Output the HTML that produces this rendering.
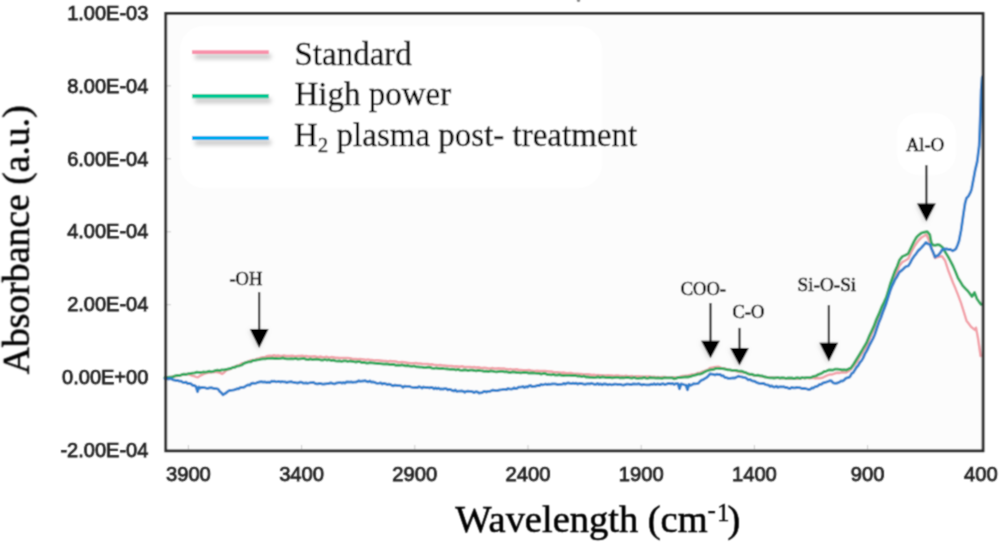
<!DOCTYPE html>
<html><head><meta charset="utf-8"><style>
html,body{margin:0;padding:0;background:#fff;width:1000px;height:544px;overflow:hidden}
svg{display:block}
.sans{font-family:"Liberation Sans",sans-serif;font-size:20px;fill:#1e1e1e;stroke:#1e1e1e;stroke-width:0.75px}
.serif{font-family:"Liberation Serif",serif;fill:#000;stroke:#000;stroke-width:0.3px}
</style></head><body>
<svg width="1000" height="544" viewBox="0 0 1000 544">
<defs>
<filter id="gb" x="0" y="0" width="1000" height="544" filterUnits="userSpaceOnUse"><feConvolveMatrix order="3" kernelMatrix="1 2 1 2 6 2 1 2 1" divisor="18" edgeMode="duplicate" preserveAlpha="false"/></filter>
<filter id="sh" x="-10%" y="-100%" width="120%" height="400%"><feGaussianBlur stdDeviation="2"/></filter>
<filter id="ash" x="-50%" y="-50%" width="200%" height="200%"><feGaussianBlur stdDeviation="2.2"/></filter>
</defs>
<g filter="url(#gb)">
<rect x="165.8" y="13.5" width="817.2" height="437.3" fill="#fcfcfc"/>
<rect x="180" y="26" width="422" height="162" rx="24" fill="#ffffff"/>
<rect x="897" y="113" width="59" height="62" rx="22" fill="#ffffff"/>
<g stroke="#c8c8c8" stroke-width="1"><line x1="167" y1="85.9" x2="171" y2="85.9"/><line x1="167" y1="158.8" x2="171" y2="158.8"/><line x1="167" y1="231.8" x2="171" y2="231.8"/><line x1="167" y1="304.7" x2="171" y2="304.7"/><line x1="167" y1="377.6" x2="171" y2="377.6"/><line x1="188.4" y1="449" x2="188.4" y2="445"/><line x1="301.6" y1="449" x2="301.6" y2="445"/><line x1="414.8" y1="449" x2="414.8" y2="445"/><line x1="528.0" y1="449" x2="528.0" y2="445"/><line x1="641.2" y1="449" x2="641.2" y2="445"/><line x1="754.4" y1="449" x2="754.4" y2="445"/><line x1="867.6" y1="449" x2="867.6" y2="445"/></g>
<g fill="none" stroke-linejoin="round" stroke-linecap="round">
<path d="M165.0,377.9 L167.0,377.8 L169.0,377.5 L171.0,376.9 L173.0,376.5 L175.2,376.3 L177.3,376.0 L179.5,375.2 L181.7,375.0 L183.8,374.8 L186.0,374.0 L188.0,374.3 L190.0,374.8 L192.0,375.7 L194.0,376.1 L196.0,376.9 L198.0,377.3 L200.0,375.8 L202.0,374.8 L204.0,373.8 L206.3,373.0 L208.7,372.7 L211.0,372.1 L213.3,372.2 L215.7,371.7 L218.0,372.3 L220.0,372.9 L222.0,373.9 L224.0,372.7 L226.0,370.7 L228.2,369.5 L230.5,369.0 L232.8,367.5 L235.0,366.4 L237.2,365.7 L239.5,364.9 L241.8,363.5 L244.0,362.9 L246.2,362.1 L248.5,361.4 L250.8,360.4 L253.0,359.9 L255.0,359.7 L257.0,358.8 L259.0,358.5 L261.0,357.7 L263.0,357.3 L265.3,357.0 L267.7,355.9 L270.0,355.8 L272.0,355.9 L274.0,355.2 L276.0,356.0 L278.0,355.5 L280.0,355.9 L282.0,355.9 L284.0,355.6 L286.0,355.9 L288.0,355.9 L290.0,356.1 L292.0,355.7 L294.0,356.1 L296.0,356.3 L298.0,356.1 L300.0,356.0 L302.1,355.8 L304.2,356.2 L306.2,356.1 L308.3,356.5 L310.4,356.6 L312.5,356.6 L314.5,356.3 L316.6,356.8 L318.7,356.9 L320.8,356.6 L322.8,357.2 L324.9,357.1 L327.0,356.8 L329.1,357.6 L331.2,357.1 L333.3,357.3 L335.4,357.8 L337.5,357.8 L339.5,357.9 L341.6,358.1 L343.7,358.1 L345.8,358.1 L347.9,358.1 L350.0,358.2 L352.0,358.8 L354.0,359.0 L356.0,359.0 L358.0,359.3 L360.0,359.1 L362.0,359.2 L364.0,359.4 L366.0,359.9 L368.0,359.4 L370.0,359.9 L372.0,359.9 L374.0,360.4 L376.0,360.2 L378.0,360.3 L380.0,360.5 L382.0,360.8 L384.0,361.1 L386.0,360.9 L388.0,361.5 L390.0,361.0 L392.0,361.3 L394.0,361.3 L396.0,361.5 L398.0,362.2 L400.0,362.3 L402.0,362.0 L404.0,362.2 L406.0,362.5 L408.0,362.9 L410.0,363.1 L412.0,363.2 L414.0,363.3 L416.0,363.1 L418.0,363.4 L420.0,363.4 L422.0,363.8 L424.0,364.0 L426.0,363.9 L428.0,364.0 L430.0,364.6 L432.0,364.2 L434.0,364.9 L436.0,365.1 L438.0,365.3 L440.0,365.0 L442.0,365.3 L444.0,365.5 L446.0,365.7 L448.0,366.1 L450.0,366.0 L452.0,365.9 L454.0,366.4 L456.0,366.3 L458.0,366.5 L460.0,366.8 L462.0,366.3 L464.1,367.0 L466.1,367.0 L468.1,367.0 L470.1,367.1 L472.2,367.2 L474.2,367.1 L476.2,367.5 L478.3,367.2 L480.3,367.7 L482.3,367.9 L484.3,367.8 L486.4,368.0 L488.4,368.4 L490.4,368.5 L492.5,368.0 L494.5,368.6 L496.5,368.6 L498.5,368.2 L500.6,368.6 L502.6,368.6 L504.6,368.6 L506.7,369.1 L508.7,369.5 L510.7,369.1 L512.7,369.6 L514.8,369.6 L516.8,369.3 L518.8,370.0 L520.9,369.9 L522.9,370.2 L524.9,370.2 L526.9,370.3 L529.0,370.1 L531.0,370.5 L533.0,370.8 L535.1,370.9 L537.1,370.7 L539.1,371.1 L541.1,371.1 L543.2,370.9 L545.2,371.0 L547.2,371.2 L549.3,371.4 L551.3,371.6 L553.3,372.0 L555.4,372.3 L557.4,372.3 L559.4,372.4 L561.4,372.7 L563.5,372.6 L565.5,372.9 L567.5,373.3 L569.6,373.1 L571.6,373.1 L573.6,373.8 L575.6,373.8 L577.7,373.7 L579.7,373.9 L581.7,374.1 L583.8,374.4 L585.8,374.2 L587.8,374.2 L589.9,374.5 L591.9,375.1 L593.9,374.8 L595.9,375.2 L598.0,375.1 L600.0,375.3 L602.0,375.3 L604.0,375.5 L606.0,375.4 L608.0,375.3 L610.0,375.5 L612.0,375.6 L614.0,375.9 L616.0,375.6 L618.0,375.6 L620.0,376.0 L622.0,376.0 L624.0,376.3 L626.0,375.8 L628.0,376.2 L630.0,376.2 L632.0,376.0 L634.0,376.8 L636.0,376.2 L638.0,376.2 L640.0,376.6 L642.0,376.4 L644.0,376.8 L646.0,376.6 L648.0,376.5 L650.0,376.5 L652.0,377.1 L654.0,376.8 L656.0,377.2 L658.0,377.0 L660.0,377.5 L662.0,377.0 L664.0,377.0 L666.0,377.1 L668.0,377.6 L670.0,377.5 L672.0,377.3 L674.0,377.2 L676.0,377.4 L678.0,377.4 L680.0,376.8 L682.0,376.1 L684.0,375.9 L686.0,375.7 L688.0,375.5 L690.0,375.1 L692.0,374.5 L694.0,374.4 L696.0,374.0 L698.0,372.9 L700.0,372.9 L702.0,371.7 L704.0,371.1 L706.0,370.4 L708.0,369.7 L710.0,368.1 L712.0,367.7 L714.0,367.3 L716.0,366.9 L718.0,366.7 L720.0,367.3 L722.0,368.3 L724.0,368.2 L726.2,368.9 L728.4,369.4 L730.6,370.1 L732.8,370.8 L735.0,370.7 L737.0,371.5 L739.0,371.8 L741.0,372.2 L743.0,372.2 L745.0,372.8 L747.3,373.2 L749.7,374.1 L752.0,374.8 L754.0,375.5 L756.0,375.6 L758.0,375.7 L760.0,375.9 L762.0,376.6 L764.0,376.8 L766.0,377.2 L768.0,377.2 L770.0,377.6 L772.0,377.4 L774.0,378.0 L776.0,377.5 L778.0,378.0 L780.0,378.3 L782.0,378.3 L784.0,378.0 L786.0,378.2 L788.0,378.8 L790.0,378.7 L792.0,378.8 L794.0,378.8 L796.0,378.4 L798.0,378.7 L800.0,378.5 L802.0,378.1 L804.0,378.1 L806.0,377.8 L808.0,378.0 L810.0,378.4 L812.5,377.8 L815.0,378.4 L817.4,378.1 L819.9,378.3 L822.4,377.8 L824.8,376.5 L827.3,375.4 L829.8,374.5 L831.8,374.5 L833.9,373.9 L835.9,373.0 L838.0,372.7 L840.0,372.9 L842.1,372.3 L844.3,372.5 L846.4,372.4 L850.0,370.2 L852.2,367.4 L854.4,364.9 L856.6,362.0 L859.1,357.8 L861.6,353.7 L864.0,349.7 L866.5,346.3 L869.0,339.9 L871.5,334.1 L873.8,329.1 L876.0,322.8 L878.8,316.8 L881.6,309.7 L884.0,305.0 L886.3,299.8 L888.5,293.8 L890.6,287.1 L892.8,281.6 L895.0,276.2 L897.2,271.3 L899.4,265.9 L902.4,262.1 L905.3,260.5 L908.2,258.7 L911.6,251.3 L914.0,247.1 L916.5,243.3 L919.0,240.0 L921.5,237.5 L924.0,236.0 L926.5,234.7 L930.0,242.7 L933.0,252.9 L935.0,258.0 L938.0,256.9 L940.0,256.6 L942.0,256.2 L945.0,260.4 L948.0,269.7 L950.5,276.3 L953.0,282.7 L955.5,288.6 L958.0,294.9 L961.0,302.9 L963.8,311.9 L966.5,320.7 L968.8,323.8 L971.0,326.7 L974.8,329.9 L976.0,327.7 L978.0,338.3 L980.6,356.0" stroke="#f2a0a8" stroke-width="2.5"/>
<path d="M165.0,377.6 L167.0,377.6 L169.0,377.2 L171.0,377.1 L173.0,376.8 L175.2,375.8 L177.3,375.3 L179.5,375.7 L181.7,374.7 L183.8,374.2 L186.0,374.5 L188.2,373.7 L190.3,373.7 L192.5,373.1 L194.7,372.9 L196.8,372.2 L199.0,372.3 L201.0,372.5 L203.0,372.0 L205.0,372.1 L207.0,371.9 L209.0,371.2 L211.0,371.8 L213.2,371.3 L215.3,370.7 L217.5,370.1 L219.7,370.6 L221.8,369.9 L224.0,369.8 L226.2,369.5 L228.4,368.8 L230.6,368.5 L232.8,367.4 L235.0,367.3 L237.2,366.1 L239.5,365.8 L241.8,365.0 L244.0,363.4 L246.2,362.6 L248.5,361.9 L250.8,361.9 L253.0,360.5 L255.0,360.4 L257.0,359.8 L259.0,359.6 L261.0,359.2 L263.0,358.9 L265.3,358.8 L267.7,358.4 L270.0,358.4 L272.1,358.2 L274.3,358.5 L276.4,358.5 L278.6,358.7 L280.7,358.4 L282.9,357.9 L285.0,358.7 L287.1,358.8 L289.3,358.8 L291.4,358.6 L293.6,358.8 L295.7,358.4 L297.9,359.1 L300.0,358.9 L302.1,358.7 L304.2,358.5 L306.2,359.4 L308.3,359.7 L310.4,358.9 L312.5,359.7 L314.5,359.4 L316.6,359.2 L318.7,359.4 L320.8,360.0 L322.8,360.2 L324.9,359.5 L327.0,360.1 L329.1,359.7 L331.2,360.5 L333.3,360.2 L335.4,360.9 L337.5,361.2 L339.5,360.8 L341.6,361.5 L343.7,360.9 L345.8,360.8 L347.9,361.5 L350.0,361.0 L352.0,361.3 L354.0,361.7 L356.0,362.0 L358.0,361.7 L360.0,361.7 L362.0,362.7 L364.0,362.3 L366.0,363.0 L368.0,363.1 L370.0,362.7 L372.0,362.9 L374.0,363.1 L376.0,363.4 L378.0,363.5 L380.0,363.6 L382.0,363.8 L384.0,364.2 L386.0,364.0 L388.0,364.1 L390.0,364.6 L392.0,364.3 L394.0,364.5 L396.0,365.4 L398.0,365.1 L400.0,365.3 L402.0,364.9 L404.0,365.5 L406.0,365.8 L408.0,365.5 L410.0,366.2 L412.0,366.4 L414.0,366.0 L416.0,366.8 L418.0,366.8 L420.0,367.2 L422.0,367.1 L424.0,367.6 L426.0,367.7 L428.0,367.2 L430.0,367.4 L432.0,368.1 L434.0,368.5 L436.0,368.0 L438.0,368.3 L440.0,368.6 L442.0,368.5 L444.0,368.7 L446.0,368.8 L448.0,369.0 L450.0,369.4 L452.0,369.2 L454.0,369.4 L456.0,370.0 L458.0,369.4 L460.0,370.1 L462.0,370.3 L464.1,370.0 L466.1,370.0 L468.1,370.6 L470.1,370.2 L472.2,370.2 L474.2,370.5 L476.2,370.9 L478.3,370.4 L480.3,370.7 L482.3,370.8 L484.3,371.4 L486.4,371.1 L488.4,371.6 L490.4,371.0 L492.5,371.2 L494.5,371.6 L496.5,371.9 L498.5,371.6 L500.6,371.4 L502.6,371.4 L504.6,371.9 L506.7,371.7 L508.7,372.4 L510.7,372.5 L512.7,371.9 L514.8,372.1 L516.8,372.7 L518.8,372.6 L520.9,372.9 L522.9,372.5 L524.9,372.4 L526.9,372.6 L529.0,373.2 L531.0,372.8 L533.0,373.0 L535.1,373.2 L537.1,373.3 L539.1,373.4 L541.2,374.1 L543.2,373.5 L545.2,373.4 L547.2,374.5 L549.3,374.6 L551.3,374.8 L553.3,374.4 L555.4,375.1 L557.4,375.2 L559.4,374.6 L561.5,375.3 L563.5,375.5 L565.5,375.4 L567.6,375.4 L569.6,375.3 L571.6,375.5 L573.7,375.5 L575.7,375.5 L577.7,376.2 L579.8,376.0 L581.8,376.7 L583.8,376.0 L585.8,377.0 L587.9,377.0 L589.9,377.3 L591.9,377.4 L594.0,377.6 L596.0,377.4 L598.0,376.8 L600.0,377.6 L602.0,377.0 L604.0,377.2 L606.0,377.6 L608.0,377.5 L610.0,377.4 L612.0,377.9 L614.0,377.6 L616.0,377.4 L618.0,377.3 L620.0,378.0 L622.0,377.6 L624.0,377.9 L626.0,377.5 L628.0,377.4 L630.0,377.8 L632.0,378.1 L634.0,377.5 L636.0,378.1 L638.0,378.3 L640.0,378.2 L642.0,378.2 L644.0,377.4 L646.0,378.1 L648.0,378.3 L650.0,377.5 L652.0,377.8 L654.0,377.8 L656.0,378.1 L658.0,378.0 L660.0,378.1 L662.0,378.4 L664.0,377.7 L666.0,377.8 L668.0,377.8 L670.0,377.9 L672.0,377.8 L674.0,378.8 L676.0,378.4 L678.0,377.5 L680.0,377.7 L682.0,377.3 L684.0,377.1 L686.0,376.9 L688.0,377.0 L690.0,376.7 L692.0,375.9 L694.0,375.3 L696.0,374.9 L698.0,374.1 L700.0,374.1 L702.0,373.4 L704.0,372.3 L706.0,371.2 L708.0,370.5 L710.0,369.9 L712.0,369.6 L714.0,369.3 L716.0,368.4 L718.0,368.3 L720.0,368.5 L722.0,368.6 L724.0,368.9 L726.0,369.3 L728.0,369.9 L730.0,369.9 L732.0,370.4 L734.0,370.4 L736.0,370.3 L738.0,370.8 L740.0,371.2 L742.0,371.2 L744.0,372.1 L746.0,372.7 L748.0,373.8 L750.0,374.4 L752.0,374.2 L754.0,375.1 L756.0,375.4 L758.0,375.2 L760.0,375.8 L762.0,375.8 L764.0,376.8 L766.0,377.0 L768.0,377.6 L770.0,377.9 L772.0,377.8 L774.0,378.0 L776.0,377.9 L778.0,377.5 L780.0,378.1 L782.0,377.6 L784.0,377.8 L786.0,378.5 L788.0,377.9 L790.0,378.0 L792.0,377.9 L794.0,378.7 L796.0,377.9 L798.0,377.7 L800.0,378.4 L802.2,377.5 L804.4,378.0 L806.6,377.6 L808.8,377.6 L811.0,377.5 L813.6,376.3 L816.2,375.8 L818.8,374.3 L821.5,373.4 L824.3,371.5 L826.5,371.1 L828.7,370.0 L830.9,370.0 L833.1,370.1 L835.3,369.1 L837.5,369.2 L839.7,369.3 L841.9,369.9 L844.2,369.7 L846.4,370.1 L848.6,368.9 L850.8,368.1 L853.7,364.0 L856.6,359.3 L859.1,355.2 L861.6,351.1 L864.0,346.9 L866.5,342.8 L869.0,336.7 L871.5,331.3 L873.8,326.4 L876.0,320.4 L878.8,314.2 L881.6,307.2 L884.0,302.4 L886.3,297.3 L888.5,290.2 L890.6,283.0 L892.8,277.0 L895.0,271.1 L897.2,266.2 L899.4,260.2 L902.4,256.5 L905.3,255.3 L908.2,253.6 L911.2,247.4 L914.1,241.4 L916.5,237.2 L919.0,234.8 L921.5,233.0 L924.4,232.1 L927.3,231.7 L929.8,234.7 L931.4,242.9 L933.0,245.0 L935.2,245.3 L937.5,244.6 L939.7,245.0 L943.0,247.9 L945.5,252.6 L948.0,256.5 L950.5,261.1 L953.0,266.0 L955.5,271.7 L958.0,278.0 L960.5,282.0 L962.9,285.9 L965.1,288.3 L967.3,290.4 L969.5,293.1 L972.0,296.6 L974.5,292.5 L977.0,299.0 L979.0,301.8 L981.0,304.4" stroke="#2fa85c" stroke-width="2.8"/>
<path d="M165.0,378.6 L166.6,378.3 L168.2,379.0 L169.8,378.7 L171.4,378.8 L173.0,379.8 L174.6,380.2 L176.2,380.6 L177.9,380.4 L179.5,381.2 L181.1,381.1 L182.8,382.3 L184.4,382.6 L186.0,382.1 L187.7,383.7 L189.3,383.3 L191.0,383.9 L192.7,385.4 L194.3,385.5 L196.0,386.5 L197.5,391.7 L199.0,387.0 L200.5,388.0 L202.0,387.4 L203.5,387.7 L205.0,387.7 L206.5,388.3 L208.0,388.4 L209.5,387.8 L211.0,387.6 L212.8,388.2 L214.5,388.7 L216.2,388.6 L218.0,389.0 L219.7,391.4 L221.3,392.8 L223.0,394.7 L224.7,393.8 L226.3,392.8 L228.0,391.2 L229.5,390.5 L231.0,390.3 L232.5,390.1 L234.0,389.8 L235.5,389.4 L237.0,388.7 L238.6,388.9 L240.2,387.6 L241.8,387.3 L243.4,387.4 L245.0,386.7 L246.6,385.5 L248.2,384.9 L249.8,385.2 L251.4,383.5 L253.0,383.2 L254.7,383.4 L256.3,383.1 L258.0,382.3 L259.7,381.8 L261.3,381.7 L263.0,382.2 L264.8,381.8 L266.5,382.5 L268.2,382.2 L270.0,382.5 L271.5,381.2 L273.0,381.4 L274.5,381.2 L276.0,381.8 L277.5,381.7 L279.0,381.4 L280.5,382.1 L282.0,381.5 L283.5,381.9 L285.0,381.8 L286.5,382.6 L288.0,382.1 L289.5,381.9 L291.0,381.7 L292.5,382.2 L294.0,382.5 L295.5,382.6 L297.0,383.0 L298.5,382.9 L300.0,382.1 L301.5,382.1 L303.0,383.0 L304.5,383.1 L306.0,382.8 L307.5,383.3 L309.0,383.0 L310.5,382.7 L312.0,382.6 L313.5,382.4 L315.0,383.4 L316.5,383.8 L318.0,383.9 L319.5,383.3 L321.0,383.7 L322.5,384.1 L324.0,384.0 L325.5,383.8 L327.0,383.6 L328.5,383.6 L330.0,383.0 L331.5,383.0 L333.0,383.6 L334.5,383.9 L336.0,383.2 L337.5,382.9 L339.0,382.7 L340.5,382.7 L342.0,383.1 L343.5,382.5 L345.0,383.1 L346.5,381.9 L348.1,382.0 L349.6,382.2 L351.2,381.9 L352.7,382.4 L354.2,382.2 L355.8,382.2 L357.3,381.7 L358.8,380.7 L360.4,381.4 L361.9,381.2 L363.5,381.0 L365.0,380.6 L366.6,381.4 L368.2,381.9 L369.8,381.0 L371.3,382.1 L372.9,381.9 L374.5,382.3 L376.1,383.1 L377.7,383.4 L379.2,383.2 L380.8,382.8 L382.4,384.1 L384.0,383.3 L385.6,383.8 L387.2,384.6 L388.8,384.2 L390.3,384.3 L391.9,385.5 L393.5,385.8 L395.1,385.1 L396.7,385.5 L398.2,385.6 L399.8,385.6 L401.4,386.0 L403.0,387.3 L404.6,386.1 L406.2,386.4 L407.8,386.4 L409.3,386.3 L410.9,387.0 L412.5,387.4 L414.1,387.6 L415.7,387.4 L417.2,387.7 L418.8,386.7 L420.4,387.1 L422.0,388.1 L423.5,387.0 L425.0,387.3 L426.5,387.7 L428.0,387.5 L429.5,388.0 L431.0,387.4 L432.5,387.7 L434.0,388.8 L435.5,387.8 L437.0,388.9 L438.5,388.0 L440.0,389.2 L441.5,389.0 L443.1,389.1 L444.6,388.6 L446.2,388.7 L447.7,389.9 L449.2,389.3 L450.8,389.6 L452.3,390.7 L453.8,391.0 L455.4,390.0 L456.9,391.5 L458.5,391.1 L460.0,391.1 L461.6,390.8 L463.2,391.3 L464.8,392.3 L466.3,391.4 L467.9,391.2 L469.5,391.4 L471.1,391.4 L472.7,391.8 L474.2,392.7 L475.8,391.6 L477.4,391.9 L479.0,393.0 L480.5,392.9 L482.1,392.7 L483.6,391.5 L485.1,391.5 L486.6,392.1 L488.2,391.3 L489.7,391.4 L491.2,390.7 L492.8,390.1 L494.3,390.4 L495.8,390.7 L497.4,390.6 L498.9,390.1 L500.4,389.8 L501.9,389.7 L503.5,389.4 L505.0,389.3 L506.5,389.6 L508.0,388.5 L509.5,388.9 L511.0,389.2 L512.5,388.9 L514.0,387.8 L515.5,388.7 L517.0,388.3 L518.5,387.2 L520.0,387.2 L521.5,386.9 L523.0,386.5 L524.5,387.6 L526.0,386.6 L527.5,387.1 L529.0,385.9 L530.5,385.5 L532.0,386.6 L533.5,386.3 L535.0,386.4 L536.5,385.8 L538.0,385.4 L539.5,385.5 L541.0,384.4 L542.5,384.8 L544.0,384.5 L545.5,384.0 L547.1,384.6 L548.6,384.1 L550.1,384.3 L551.6,384.0 L553.2,383.9 L554.7,383.9 L556.2,384.1 L557.8,384.6 L559.3,384.4 L560.8,384.3 L562.4,384.2 L563.9,383.3 L565.4,384.2 L566.9,383.1 L568.5,382.8 L570.0,383.3 L571.5,383.7 L573.1,383.2 L574.6,383.6 L576.1,383.1 L577.6,384.1 L579.2,383.5 L580.7,383.5 L582.2,383.6 L583.8,384.2 L585.3,384.4 L586.8,383.8 L588.4,383.7 L589.9,384.0 L591.4,383.2 L592.9,383.8 L594.5,384.4 L596.0,384.3 L597.5,383.4 L599.1,384.5 L600.6,383.9 L602.1,384.8 L603.6,384.0 L605.2,383.8 L606.7,384.3 L608.2,384.8 L609.8,384.2 L611.3,384.8 L612.8,384.7 L614.4,384.2 L615.9,384.2 L617.4,384.5 L618.9,384.4 L620.5,384.4 L622.0,384.8 L623.5,385.1 L625.1,384.7 L626.6,384.1 L628.1,384.1 L629.6,384.3 L631.2,384.7 L632.7,384.0 L634.2,383.9 L635.8,384.2 L637.3,384.1 L638.8,383.7 L640.4,384.4 L641.9,385.0 L643.4,384.4 L644.9,384.7 L646.5,384.8 L648.0,384.8 L649.5,384.9 L651.1,384.2 L652.6,384.5 L654.1,383.7 L655.6,384.7 L657.2,384.0 L658.7,384.1 L660.2,384.7 L661.8,383.8 L663.3,383.7 L664.8,384.6 L666.4,384.2 L667.9,383.5 L669.4,383.4 L670.9,383.8 L672.5,383.3 L674.0,384.5 L676.0,383.6 L678.0,383.7 L679.5,388.8 L681.0,384.0 L682.7,384.2 L684.3,384.8 L686.0,385.2 L687.5,389.9 L689.0,384.4 L690.5,385.4 L692.0,384.8 L693.5,383.7 L695.0,383.9 L696.7,383.7 L698.3,383.4 L700.0,381.4 L701.7,380.1 L703.3,379.6 L705.0,378.4 L706.7,377.6 L708.3,376.0 L710.0,373.8 L711.7,374.1 L713.3,374.4 L715.0,375.0 L716.7,374.2 L718.3,374.7 L720.0,374.4 L721.7,375.9 L723.3,375.7 L725.0,377.6 L726.7,377.7 L728.3,378.4 L730.0,378.4 L731.7,378.1 L733.3,378.0 L735.0,378.0 L736.7,377.1 L738.3,376.2 L740.0,376.7 L741.7,376.9 L743.3,377.4 L745.0,377.6 L746.7,378.4 L748.3,379.9 L750.0,379.5 L751.5,380.5 L753.1,381.1 L754.6,381.2 L756.2,382.2 L757.7,382.9 L759.2,383.3 L760.8,383.6 L762.3,383.3 L763.8,383.5 L765.4,384.5 L766.9,384.8 L768.5,385.1 L770.0,386.5 L771.5,385.8 L773.1,386.8 L774.6,387.1 L776.2,386.1 L777.7,387.3 L779.2,386.8 L780.8,386.7 L782.3,386.8 L783.8,386.7 L785.4,387.5 L786.9,387.5 L788.5,388.3 L790.0,388.5 L791.7,387.4 L793.3,387.9 L795.0,387.8 L796.7,387.5 L798.3,387.7 L800.0,387.7 L801.8,388.6 L803.5,388.5 L805.3,388.5 L807.0,389.0 L808.8,389.6 L810.4,389.1 L811.9,388.0 L813.5,388.0 L815.0,386.7 L816.6,386.6 L818.1,385.8 L819.7,384.4 L821.2,384.4 L822.8,383.1 L824.3,382.6 L826.1,382.1 L828.0,381.5 L829.8,380.7 L831.5,381.0 L833.1,382.9 L835.3,383.3 L837.5,383.0 L839.2,382.3 L840.9,381.0 L842.5,381.1 L844.2,380.0 L846.1,378.1 L848.1,377.7 L850.0,376.7 L851.6,373.7 L853.3,372.5 L855.0,369.8 L856.6,367.3 L858.2,365.5 L859.9,362.5 L861.6,360.6 L863.2,357.9 L864.9,353.9 L866.5,351.2 L868.1,348.3 L869.8,344.5 L871.5,341.3 L873.1,338.4 L874.8,334.5 L876.9,328.3 L879.0,322.1 L880.9,317.8 L882.8,312.3 L884.7,307.4 L886.2,303.4 L888.1,297.3 L890.1,291.1 L892.0,286.1 L893.5,283.2 L895.0,279.8 L896.5,277.5 L899.4,272.1 L901.6,270.5 L903.8,268.4 L906.0,266.5 L908.2,266.0 L910.2,262.9 L912.1,259.2 L914.1,256.2 L916.1,253.8 L918.0,250.9 L920.0,249.1 L922.0,247.0 L923.9,244.8 L925.9,242.5 L928.0,244.0 L930.0,244.5 L931.5,248.9 L933.0,251.8 L935.0,257.1 L936.5,256.0 L938.0,255.5 L940.0,253.2 L942.0,250.0 L943.5,249.2 L945.0,249.0 L946.7,248.8 L948.3,249.5 L950.0,249.3 L952.7,250.9 L954.3,250.0 L955.9,248.9 L957.5,245.2 L959.0,241.0 L961.1,230.2 L963.3,214.9 L965.0,203.7 L966.4,198.3 L968.5,196.1 L970.7,191.8 L971.7,188.6 L973.8,177.5 L975.0,170.9 L977.2,161.7 L979.2,145.6 L980.2,120.6 L981.2,90.1 L982.2,77.0" stroke="#2f7fcc" stroke-width="2.8"/>
</g>
<circle cx="578.5" cy="0.5" r="1.6" fill="#888"/>
<rect x="165.8" y="13.5" width="817.2" height="437.3" fill="none" stroke="#2c2c2c" stroke-width="2.8"/>
<!-- legend -->
<g>
<rect x="195" y="54" width="76" height="5" fill="#c6c6c6" filter="url(#sh)"/>
<rect x="195" y="98" width="76" height="5" fill="#c6c6c6" filter="url(#sh)"/>
<rect x="195" y="140" width="76" height="5" fill="#c6c6c6" filter="url(#sh)"/>
<line x1="192" y1="52.2" x2="268.8" y2="52.2" stroke="#f890aa" stroke-width="3.8"/>
<line x1="192" y1="96.2" x2="268.8" y2="96.2" stroke="#00c894" stroke-width="4.2"/>
<line x1="192" y1="138" x2="268.8" y2="138" stroke="#00aaee" stroke-width="4.2"/>
<text class="serif" x="294.5" y="64.8" font-size="33">Standard</text>
<text class="serif" x="294.5" y="105" font-size="33">High power</text>
<text class="serif" x="294" y="146" font-size="33">H<tspan font-size="21" dy="6">2</tspan><tspan dy="-6"> plasma post- treatment</tspan></text>
</g>
<g class="serif" font-size="18.5" style="stroke-width:0.6px">
<text x="229.4" y="284.8">-OH</text>
<text x="680.7" y="295.2">COO-</text>
<text x="732.5" y="318.2">C-O</text>
<text x="797.5" y="290.9" font-size="19.2">Si-O-Si</text>
<text x="906" y="151.3">Al-O</text>
</g>
<polygon points="248.79999999999998,330.1 267.59999999999997,330.1 258.2,349.9" fill="#bbb" opacity="0.6" filter="url(#ash)"/><line x1="259.2" y1="292.2" x2="259.2" y2="330.1" stroke="#000" stroke-width="2"/><polygon points="249.79999999999998,329.1 268.59999999999997,329.1 259.2,347.9" fill="#000"/><polygon points="700.1,341.8 718.9,341.8 709.5,360.2" fill="#bbb" opacity="0.6" filter="url(#ash)"/><line x1="710.5" y1="303" x2="710.5" y2="341.8" stroke="#000" stroke-width="2"/><polygon points="701.1,340.8 719.9,340.8 710.5,358.2" fill="#000"/><polygon points="729.1,349.1 747.9,349.1 738.5,367.6" fill="#bbb" opacity="0.6" filter="url(#ash)"/><line x1="739.5" y1="327.9" x2="739.5" y2="349.1" stroke="#000" stroke-width="2"/><polygon points="730.1,348.1 748.9,348.1 739.5,365.6" fill="#000"/><polygon points="818.4,343.7 837.1999999999999,343.7 827.8,363.5" fill="#bbb" opacity="0.6" filter="url(#ash)"/><line x1="828.8" y1="305.2" x2="828.8" y2="343.7" stroke="#000" stroke-width="2"/><polygon points="819.4,342.7 838.1999999999999,342.7 828.8,361.5" fill="#000"/><polygon points="916.0,204.4 934.8,204.4 925.4,223.5" fill="#bbb" opacity="0.6" filter="url(#ash)"/><line x1="926.4" y1="165.2" x2="926.4" y2="204.4" stroke="#000" stroke-width="2"/><polygon points="917.0,203.4 935.8,203.4 926.4,221.5" fill="#000"/>
<g class="sans">
<text x="148.3" y="20.2" text-anchor="end">1.00E-03</text>
<text x="148.3" y="93.0" text-anchor="end">8.00E-04</text>
<text x="148.3" y="165.7" text-anchor="end">6.00E-04</text>
<text x="148.3" y="238.4" text-anchor="end">4.00E-04</text>
<text x="148.3" y="311.2" text-anchor="end">2.00E-04</text>
<text x="148.3" y="383.9" text-anchor="end">0.00E+00</text>
<text x="148.3" y="456.7" text-anchor="end">-2.00E-04</text>

<text x="188.4" y="480.7" text-anchor="middle" font-size="20.2">3900</text>
<text x="301.6" y="480.7" text-anchor="middle" font-size="20.2">3400</text>
<text x="414.8" y="480.7" text-anchor="middle" font-size="20.2">2900</text>
<text x="528.0" y="480.7" text-anchor="middle" font-size="20.2">2400</text>
<text x="641.2" y="480.7" text-anchor="middle" font-size="20.2">1900</text>
<text x="754.4" y="480.7" text-anchor="middle" font-size="20.2">1400</text>
<text x="867.6" y="480.7" text-anchor="middle" font-size="20.2">900</text>
<text x="980.8" y="480.7" text-anchor="middle" font-size="20.2">400</text>

</g>
<text class="serif" x="455.3" y="531.6" font-size="38.5" style="stroke-width:0.55px" textLength="252.3" lengthAdjust="spacing">Wavelength (cm</text>
<text class="serif" x="707.5" y="518.3" font-size="25">-</text>
<text class="serif" x="717" y="520.8" font-size="25">1</text>
<text class="serif" x="727.5" y="531.6" font-size="38.5" style="stroke-width:0.55px">)</text>
<text class="serif" transform="translate(28.8,374.3) rotate(-90)" x="0" y="0" font-size="37.7" style="stroke-width:0.55px">Absorbance (a.u.)</text>
</g>
</svg>
</body></html>
